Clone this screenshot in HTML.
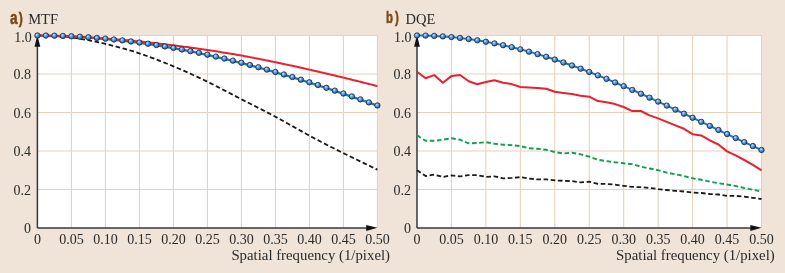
<!DOCTYPE html>
<html><head><meta charset="utf-8"><style>
html,body{margin:0;padding:0;background:#efe4d7;}
svg{display:block;}
.t{font-family:"Liberation Serif",serif;font-size:14px;fill:#2a2a2a;}
.ttl{font-family:"Liberation Serif",serif;font-size:14.5px;fill:#2a2a2a;}
.lab{font-family:"Liberation Sans",sans-serif;font-weight:bold;font-size:17px;fill:#7a4613;stroke:#7a4613;stroke-width:0.45px;}
.tt{font-family:"Liberation Serif",serif;font-size:14.8px;fill:#2a2a2a;}
</style></head><body>
<svg width="785" height="273" viewBox="0 0 785 273">
<defs><radialGradient id="ball" cx="0.38" cy="0.35" r="0.7">
<stop offset="0" stop-color="#d4e8fa"/><stop offset="0.35" stop-color="#6aa6e6"/><stop offset="0.8" stop-color="#2d6cc0"/><stop offset="1" stop-color="#1f4f96"/></radialGradient></defs>
<rect width="785" height="273" fill="#efe4d7"/>
<rect x="37.4" y="35.5" width="340.0" height="192.5" fill="#fff"/>
<path d="M71.40 35.5V228.0M105.40 35.5V228.0M139.40 35.5V228.0M173.40 35.5V228.0M207.40 35.5V228.0M241.40 35.5V228.0M275.40 35.5V228.0M309.40 35.5V228.0M343.40 35.5V228.0M377.40 35.5V228.0M37.4 189.50H377.4M37.4 151.00H377.4M37.4 112.50H377.4M37.4 74.00H377.4M37.4 35.50H377.4" stroke="#e6d2bc" stroke-width="1.1" fill="none"/>
<polyline points="37.40,35.50 39.10,35.50 40.80,35.52 42.50,35.54 44.20,35.57 45.90,35.62 47.60,35.67 49.30,35.73 51.00,35.80 52.70,35.88 54.40,35.98 56.10,36.08 57.80,36.19 59.50,36.32 61.20,36.46 62.90,36.60 64.60,36.76 66.30,36.94 68.00,37.12 69.70,37.31 71.40,37.52 73.10,37.74 74.80,37.97 76.50,38.22 78.20,38.47 79.90,38.74 81.60,39.02 83.30,39.30 85.00,39.60 86.70,39.91 88.40,40.23 90.10,40.56 91.80,40.89 93.50,41.24 95.20,41.59 96.90,41.95 98.60,42.32 100.30,42.70 102.00,43.08 103.70,43.48 105.40,43.87 107.10,44.28 108.80,44.69 110.50,45.11 112.20,45.53 113.90,45.96 115.60,46.40 117.30,46.85 119.00,47.30 120.70,47.76 122.40,48.23 124.10,48.71 125.80,49.20 127.50,49.69 129.20,50.20 130.90,50.71 132.60,51.23 134.30,51.76 136.00,52.30 137.70,52.84 139.40,53.40 141.10,53.97 142.80,54.55 144.50,55.13 146.20,55.73 147.90,56.33 149.60,56.95 151.30,57.57 153.00,58.20 154.70,58.84 156.40,59.48 158.10,60.13 159.80,60.79 161.50,61.46 163.20,62.13 164.90,62.81 166.60,63.50 168.30,64.19 170.00,64.89 171.70,65.59 173.40,66.30 175.10,67.01 176.80,67.73 178.50,68.46 180.20,69.19 181.90,69.92 183.60,70.66 185.30,71.41 187.00,72.16 188.70,72.92 190.40,73.68 192.10,74.45 193.80,75.23 195.50,76.02 197.20,76.81 198.90,77.60 200.60,78.41 202.30,79.22 204.00,80.04 205.70,80.87 207.40,81.70 209.10,82.54 210.80,83.39 212.50,84.24 214.20,85.11 215.90,85.97 217.60,86.84 219.30,87.72 221.00,88.60 222.70,89.48 224.40,90.36 226.10,91.25 227.80,92.14 229.50,93.03 231.20,93.91 232.90,94.80 234.60,95.69 236.30,96.58 238.00,97.46 239.70,98.34 241.40,99.22 243.10,100.09 244.80,100.96 246.50,101.83 248.20,102.70 249.90,103.56 251.60,104.43 253.30,105.29 255.00,106.15 256.70,107.02 258.40,107.88 260.10,108.75 261.80,109.62 263.50,110.49 265.20,111.37 266.90,112.25 268.60,113.13 270.30,114.03 272.00,114.92 273.70,115.82 275.40,116.74 277.10,117.65 278.80,118.58 280.50,119.51 282.20,120.44 283.90,121.38 285.60,122.33 287.30,123.28 289.00,124.23 290.70,125.18 292.40,126.14 294.10,127.09 295.80,128.05 297.50,129.00 299.20,129.95 300.90,130.90 302.60,131.85 304.30,132.80 306.00,133.74 307.70,134.67 309.40,135.60 311.10,136.52 312.80,137.44 314.50,138.35 316.20,139.26 317.90,140.16 319.60,141.05 321.30,141.94 323.00,142.82 324.70,143.70 326.40,144.58 328.10,145.45 329.80,146.31 331.50,147.18 333.20,148.04 334.90,148.89 336.60,149.74 338.30,150.59 340.00,151.44 341.70,152.28 343.40,153.12 345.10,153.95 346.80,154.79 348.50,155.62 350.20,156.46 351.90,157.28 353.60,158.11 355.30,158.94 357.00,159.77 358.70,160.59 360.40,161.42 362.10,162.24 363.80,163.07 365.50,163.89 367.20,164.71 368.90,165.54 370.60,166.36 372.30,167.19 374.00,168.02 375.70,168.84 377.40,169.67" fill="none" stroke="#1a1a1a" stroke-width="1.8" stroke-dasharray="4.6 2.6"/>
<polyline points="37.40,36.10 45.90,36.15 54.40,36.30 62.90,36.54 71.40,36.89 79.90,37.33 88.40,37.88 96.90,38.52 105.40,39.25 113.90,40.08 122.40,41.01 130.90,42.03 139.40,43.15 147.90,44.35 156.40,45.65 164.90,47.04 173.40,48.52 181.90,50.08 190.40,51.73 198.90,53.47 207.40,55.29 215.90,57.19 224.40,59.17 232.90,61.23 241.40,63.36 249.90,65.57 258.40,67.85 266.90,70.19 275.40,72.61 283.90,75.09 292.40,77.64 300.90,80.25 309.40,82.91 317.90,85.63 326.40,88.41 334.90,91.23 343.40,94.11 351.90,97.03 360.40,100.00 368.90,103.01 377.40,106.05" fill="none" stroke="#1aa060" stroke-width="1.8"/>
<polyline points="37.40,35.50 45.90,35.55 54.40,35.70 62.90,35.94 71.40,36.29 79.90,36.73 88.40,37.28 96.90,37.92 105.40,38.65 113.90,39.48 122.40,40.41 130.90,41.43 139.40,42.55 147.90,43.75 156.40,45.05 164.90,46.44 173.40,47.92 181.90,49.48 190.40,51.13 198.90,52.87 207.40,54.69 215.90,56.59 224.40,58.57 232.90,60.63 241.40,62.76 249.90,64.97 258.40,67.25 266.90,69.59 275.40,72.01 283.90,74.49 292.40,77.04 300.90,79.65 309.40,82.31 317.90,85.03 326.40,87.81 334.90,90.63 343.40,93.51 351.90,96.43 360.40,99.40 368.90,102.41 377.40,105.45" fill="none" stroke="#1b77c4" stroke-width="1.8"/>
<polyline points="37.40,35.50 39.10,35.52 40.80,35.55 42.50,35.57 44.20,35.60 45.90,35.64 47.60,35.67 49.30,35.71 51.00,35.75 52.70,35.80 54.40,35.85 56.10,35.90 57.80,35.95 59.50,36.00 61.20,36.06 62.90,36.12 64.60,36.19 66.30,36.26 68.00,36.32 69.70,36.40 71.40,36.47 73.10,36.55 74.80,36.63 76.50,36.71 78.20,36.80 79.90,36.88 81.60,36.97 83.30,37.07 85.00,37.16 86.70,37.26 88.40,37.36 90.10,37.46 91.80,37.57 93.50,37.68 95.20,37.79 96.90,37.90 98.60,38.02 100.30,38.13 102.00,38.25 103.70,38.38 105.40,38.50 107.10,38.63 108.80,38.76 110.50,38.89 112.20,39.02 113.90,39.16 115.60,39.30 117.30,39.44 119.00,39.58 120.70,39.73 122.40,39.88 124.10,40.03 125.80,40.18 127.50,40.34 129.20,40.49 130.90,40.65 132.60,40.81 134.30,40.98 136.00,41.14 137.70,41.31 139.40,41.48 141.10,41.65 142.80,41.83 144.50,42.01 146.20,42.19 147.90,42.37 149.60,42.55 151.30,42.73 153.00,42.92 154.70,43.11 156.40,43.30 158.10,43.50 159.80,43.69 161.50,43.89 163.20,44.09 164.90,44.29 166.60,44.50 168.30,44.70 170.00,44.91 171.70,45.12 173.40,45.34 175.10,45.55 176.80,45.77 178.50,45.99 180.20,46.21 181.90,46.43 183.60,46.65 185.30,46.88 187.00,47.11 188.70,47.34 190.40,47.57 192.10,47.81 193.80,48.05 195.50,48.29 197.20,48.53 198.90,48.77 200.60,49.02 202.30,49.26 204.00,49.51 205.70,49.76 207.40,50.02 209.10,50.27 210.80,50.53 212.50,50.79 214.20,51.05 215.90,51.32 217.60,51.58 219.30,51.85 221.00,52.12 222.70,52.39 224.40,52.67 226.10,52.94 227.80,53.22 229.50,53.50 231.20,53.78 232.90,54.07 234.60,54.35 236.30,54.64 238.00,54.93 239.70,55.22 241.40,55.52 243.10,55.83 244.80,56.15 246.50,56.47 248.20,56.80 249.90,57.12 251.60,57.45 253.30,57.78 255.00,58.11 256.70,58.44 258.40,58.77 260.10,59.11 261.80,59.45 263.50,59.79 265.20,60.13 266.90,60.48 268.60,60.82 270.30,61.17 272.00,61.52 273.70,61.87 275.40,62.22 277.10,62.58 278.80,62.93 280.50,63.29 282.20,63.65 283.90,64.01 285.60,64.38 287.30,64.74 289.00,65.11 290.70,65.48 292.40,65.85 294.10,66.22 295.80,66.59 297.50,66.97 299.20,67.34 300.90,67.72 302.60,68.10 304.30,68.48 306.00,68.87 307.70,69.25 309.40,69.64 311.10,70.02 312.80,70.41 314.50,70.80 316.20,71.19 317.90,71.59 319.60,71.98 321.30,72.38 323.00,72.77 324.70,73.17 326.40,73.57 328.10,73.97 329.80,74.37 331.50,74.78 333.20,75.18 334.90,75.59 336.60,76.00 338.30,76.40 340.00,76.81 341.70,77.23 343.40,77.64 345.10,78.05 346.80,78.47 348.50,78.88 350.20,79.30 351.90,79.72 353.60,80.13 355.30,80.55 357.00,80.98 358.70,81.40 360.40,81.82 362.10,82.24 363.80,82.67 365.50,83.10 367.20,83.52 368.90,83.95 370.60,84.38 372.30,84.81 374.00,85.24 375.70,85.67 377.40,86.10" fill="none" stroke="#e7212d" stroke-width="2"/>
<path d="M37.4 228.0H368.4M37.4 228.0V44.5" stroke="#383838" stroke-width="1.5" fill="none"/>
<path d="M377.4 227.8 L366.2 224.9 L366.2 230.9Z" fill="#111"/>
<path d="M37.4 35.0 L34.5 46.7 L40.3 46.7Z" fill="#111"/>
<circle cx="37.40" cy="35.50" r="2.7" fill="url(#ball)" stroke="#1c2a3c" stroke-width="0.8"/>
<circle cx="45.90" cy="35.55" r="2.7" fill="url(#ball)" stroke="#1c2a3c" stroke-width="0.8"/>
<circle cx="54.40" cy="35.70" r="2.7" fill="url(#ball)" stroke="#1c2a3c" stroke-width="0.8"/>
<circle cx="62.90" cy="35.94" r="2.7" fill="url(#ball)" stroke="#1c2a3c" stroke-width="0.8"/>
<circle cx="71.40" cy="36.29" r="2.7" fill="url(#ball)" stroke="#1c2a3c" stroke-width="0.8"/>
<circle cx="79.90" cy="36.73" r="2.7" fill="url(#ball)" stroke="#1c2a3c" stroke-width="0.8"/>
<circle cx="88.40" cy="37.28" r="2.7" fill="url(#ball)" stroke="#1c2a3c" stroke-width="0.8"/>
<circle cx="96.90" cy="37.92" r="2.7" fill="url(#ball)" stroke="#1c2a3c" stroke-width="0.8"/>
<circle cx="105.40" cy="38.65" r="2.7" fill="url(#ball)" stroke="#1c2a3c" stroke-width="0.8"/>
<circle cx="113.90" cy="39.48" r="2.7" fill="url(#ball)" stroke="#1c2a3c" stroke-width="0.8"/>
<circle cx="122.40" cy="40.41" r="2.7" fill="url(#ball)" stroke="#1c2a3c" stroke-width="0.8"/>
<circle cx="130.90" cy="41.43" r="2.7" fill="url(#ball)" stroke="#1c2a3c" stroke-width="0.8"/>
<circle cx="139.40" cy="42.55" r="2.7" fill="url(#ball)" stroke="#1c2a3c" stroke-width="0.8"/>
<circle cx="147.90" cy="43.75" r="2.7" fill="url(#ball)" stroke="#1c2a3c" stroke-width="0.8"/>
<circle cx="156.40" cy="45.05" r="2.7" fill="url(#ball)" stroke="#1c2a3c" stroke-width="0.8"/>
<circle cx="164.90" cy="46.44" r="2.7" fill="url(#ball)" stroke="#1c2a3c" stroke-width="0.8"/>
<circle cx="173.40" cy="47.92" r="2.7" fill="url(#ball)" stroke="#1c2a3c" stroke-width="0.8"/>
<circle cx="181.90" cy="49.48" r="2.7" fill="url(#ball)" stroke="#1c2a3c" stroke-width="0.8"/>
<circle cx="190.40" cy="51.13" r="2.7" fill="url(#ball)" stroke="#1c2a3c" stroke-width="0.8"/>
<circle cx="198.90" cy="52.87" r="2.7" fill="url(#ball)" stroke="#1c2a3c" stroke-width="0.8"/>
<circle cx="207.40" cy="54.69" r="2.7" fill="url(#ball)" stroke="#1c2a3c" stroke-width="0.8"/>
<circle cx="215.90" cy="56.59" r="2.7" fill="url(#ball)" stroke="#1c2a3c" stroke-width="0.8"/>
<circle cx="224.40" cy="58.57" r="2.7" fill="url(#ball)" stroke="#1c2a3c" stroke-width="0.8"/>
<circle cx="232.90" cy="60.63" r="2.7" fill="url(#ball)" stroke="#1c2a3c" stroke-width="0.8"/>
<circle cx="241.40" cy="62.76" r="2.7" fill="url(#ball)" stroke="#1c2a3c" stroke-width="0.8"/>
<circle cx="249.90" cy="64.97" r="2.7" fill="url(#ball)" stroke="#1c2a3c" stroke-width="0.8"/>
<circle cx="258.40" cy="67.25" r="2.7" fill="url(#ball)" stroke="#1c2a3c" stroke-width="0.8"/>
<circle cx="266.90" cy="69.59" r="2.7" fill="url(#ball)" stroke="#1c2a3c" stroke-width="0.8"/>
<circle cx="275.40" cy="72.01" r="2.7" fill="url(#ball)" stroke="#1c2a3c" stroke-width="0.8"/>
<circle cx="283.90" cy="74.49" r="2.7" fill="url(#ball)" stroke="#1c2a3c" stroke-width="0.8"/>
<circle cx="292.40" cy="77.04" r="2.7" fill="url(#ball)" stroke="#1c2a3c" stroke-width="0.8"/>
<circle cx="300.90" cy="79.65" r="2.7" fill="url(#ball)" stroke="#1c2a3c" stroke-width="0.8"/>
<circle cx="309.40" cy="82.31" r="2.7" fill="url(#ball)" stroke="#1c2a3c" stroke-width="0.8"/>
<circle cx="317.90" cy="85.03" r="2.7" fill="url(#ball)" stroke="#1c2a3c" stroke-width="0.8"/>
<circle cx="326.40" cy="87.81" r="2.7" fill="url(#ball)" stroke="#1c2a3c" stroke-width="0.8"/>
<circle cx="334.90" cy="90.63" r="2.7" fill="url(#ball)" stroke="#1c2a3c" stroke-width="0.8"/>
<circle cx="343.40" cy="93.51" r="2.7" fill="url(#ball)" stroke="#1c2a3c" stroke-width="0.8"/>
<circle cx="351.90" cy="96.43" r="2.7" fill="url(#ball)" stroke="#1c2a3c" stroke-width="0.8"/>
<circle cx="360.40" cy="99.40" r="2.7" fill="url(#ball)" stroke="#1c2a3c" stroke-width="0.8"/>
<circle cx="368.90" cy="102.41" r="2.7" fill="url(#ball)" stroke="#1c2a3c" stroke-width="0.8"/>
<circle cx="377.40" cy="105.45" r="2.7" fill="url(#ball)" stroke="#1c2a3c" stroke-width="0.8"/>
<text x="31.00" y="232.50" text-anchor="end" class="t">0</text>
<text x="31.10" y="194.90" text-anchor="end" class="t">0.2</text>
<text x="31.10" y="156.40" text-anchor="end" class="t">0.4</text>
<text x="31.10" y="117.90" text-anchor="end" class="t">0.6</text>
<text x="31.10" y="79.40" text-anchor="end" class="t">0.8</text>
<text x="31.70" y="41.60" text-anchor="end" class="t">1.0</text>
<text x="37.40" y="243.60" text-anchor="middle" class="t">0</text>
<text x="71.40" y="243.60" text-anchor="middle" class="t">0.05</text>
<text x="105.40" y="243.60" text-anchor="middle" class="t">0.10</text>
<text x="139.40" y="243.60" text-anchor="middle" class="t">0.15</text>
<text x="173.40" y="243.60" text-anchor="middle" class="t">0.20</text>
<text x="207.40" y="243.60" text-anchor="middle" class="t">0.25</text>
<text x="241.40" y="243.60" text-anchor="middle" class="t">0.30</text>
<text x="275.40" y="243.60" text-anchor="middle" class="t">0.35</text>
<text x="309.40" y="243.60" text-anchor="middle" class="t">0.40</text>
<text x="343.40" y="243.60" text-anchor="middle" class="t">0.45</text>
<text x="377.40" y="243.60" text-anchor="middle" class="t">0.50</text>
<text x="390.00" y="259.6" text-anchor="end" class="tt">Spatial frequency (1/pixel)</text>
<text transform="translate(10,24.1) scale(0.74,1)" class="lab"><tspan font-size="18.5">a</tspan><tspan font-size="16.5" dx="1.6" dy="-0.4">)</tspan></text>
<text x="28.2" y="24" class="ttl">MTF</text>
<rect x="417.0" y="35.5" width="344.5" height="192.5" fill="#fff"/>
<path d="M451.45 35.5V228.0M485.90 35.5V228.0M520.35 35.5V228.0M554.80 35.5V228.0M589.25 35.5V228.0M623.70 35.5V228.0M658.15 35.5V228.0M692.60 35.5V228.0M727.05 35.5V228.0M761.50 35.5V228.0M417.0 189.50H761.5M417.0 151.00H761.5M417.0 112.50H761.5M417.0 74.00H761.5M417.0 35.50H761.5" stroke="#e6d2bc" stroke-width="1.1" fill="none"/>
<path d="M417.0 228.0H752.5M417.0 228.0V44.5" stroke="#383838" stroke-width="1.5" fill="none"/>
<path d="M761.5 227.8 L750.3 224.9 L750.3 230.9Z" fill="#111"/>
<path d="M417.0 35.0 L414.1 46.7 L419.9 46.7Z" fill="#111"/>
<polyline points="417.00,170.30 425.61,176.10 434.23,174.70 442.84,176.90 451.45,175.40 460.06,176.40 468.68,175.10 477.29,175.20 485.90,176.90 494.51,176.40 503.12,178.40 511.74,177.90 520.35,177.20 528.96,178.50 537.58,179.40 546.19,179.40 554.80,180.40 563.41,180.80 572.02,181.10 580.64,182.30 589.25,181.70 597.86,183.90 606.48,183.90 615.09,184.70 623.70,185.80 632.31,186.90 640.92,187.20 649.54,187.90 658.15,189.10 666.76,190.00 675.38,190.90 683.99,191.50 692.60,192.60 701.21,193.00 709.83,194.00 718.44,194.50 727.05,195.90 735.66,195.90 744.28,196.70 752.89,197.80 761.50,199.00" fill="none" stroke="#1a1a1a" stroke-width="1.8" stroke-dasharray="4.6 2.6" stroke-linejoin="round"/>
<polyline points="417.00,135.30 425.61,140.80 434.23,140.80 442.84,139.70 451.45,138.20 460.06,139.70 468.68,143.30 477.29,143.00 485.90,142.20 494.51,143.70 503.12,144.70 511.74,145.10 520.35,146.10 528.96,148.30 537.58,148.80 546.19,149.80 554.80,152.00 563.41,153.50 572.02,152.70 580.64,154.30 589.25,156.70 597.86,159.70 606.48,161.10 615.09,162.30 623.70,163.30 632.31,164.10 640.92,166.70 649.54,168.50 658.15,170.20 666.76,172.60 675.38,174.30 683.99,176.00 692.60,178.30 701.21,179.80 709.83,181.70 718.44,183.20 727.05,184.50 735.66,186.00 744.28,188.00 752.89,189.70 761.50,191.70" fill="none" stroke="#0fa050" stroke-width="1.9" stroke-dasharray="4.6 2.6" stroke-linejoin="round"/>
<polyline points="417.00,71.70 425.61,78.30 434.23,75.10 442.84,82.70 451.45,76.10 460.06,75.00 468.68,81.30 477.29,84.20 485.90,82.00 494.51,80.20 503.12,82.80 511.74,84.10 520.35,87.00 528.96,87.40 537.58,88.00 546.19,88.80 554.80,91.80 563.41,92.90 572.02,94.00 580.64,95.80 589.25,96.70 597.86,101.10 606.48,102.20 615.09,104.10 623.70,107.00 632.31,111.10 640.92,111.00 649.54,115.40 658.15,118.40 666.76,121.90 675.38,125.40 683.99,128.80 692.60,134.20 701.21,135.40 709.83,140.30 718.44,144.50 727.05,151.40 735.66,155.40 744.28,160.00 752.89,164.80 761.50,170.30" fill="none" stroke="#e7212d" stroke-width="2" stroke-linejoin="round"/>
<polyline points="417.00,35.50 425.61,35.60 434.23,35.90 442.84,36.39 451.45,37.08 460.06,37.96 468.68,39.04 477.29,40.30 485.90,41.75 494.51,43.38 503.12,45.19 511.74,47.18 520.35,49.33 528.96,51.65 537.58,54.13 546.19,56.76 554.80,59.54 563.41,62.45 572.02,65.50 580.64,68.67 589.25,71.97 597.86,75.37 606.48,78.87 615.09,82.47 623.70,86.16 632.31,89.92 640.92,93.76 649.54,97.65 658.15,101.60 666.76,105.59 675.38,109.61 683.99,113.67 692.60,117.74 701.21,121.82 709.83,125.90 718.44,129.98 727.05,134.04 735.66,138.08 744.28,142.09 752.89,146.06 761.50,149.98" fill="none" stroke="#1b77c4" stroke-width="2"/>
<circle cx="417.00" cy="35.50" r="2.7" fill="url(#ball)" stroke="#1c2a3c" stroke-width="0.8"/>
<circle cx="425.61" cy="35.60" r="2.7" fill="url(#ball)" stroke="#1c2a3c" stroke-width="0.8"/>
<circle cx="434.23" cy="35.90" r="2.7" fill="url(#ball)" stroke="#1c2a3c" stroke-width="0.8"/>
<circle cx="442.84" cy="36.39" r="2.7" fill="url(#ball)" stroke="#1c2a3c" stroke-width="0.8"/>
<circle cx="451.45" cy="37.08" r="2.7" fill="url(#ball)" stroke="#1c2a3c" stroke-width="0.8"/>
<circle cx="460.06" cy="37.96" r="2.7" fill="url(#ball)" stroke="#1c2a3c" stroke-width="0.8"/>
<circle cx="468.68" cy="39.04" r="2.7" fill="url(#ball)" stroke="#1c2a3c" stroke-width="0.8"/>
<circle cx="477.29" cy="40.30" r="2.7" fill="url(#ball)" stroke="#1c2a3c" stroke-width="0.8"/>
<circle cx="485.90" cy="41.75" r="2.7" fill="url(#ball)" stroke="#1c2a3c" stroke-width="0.8"/>
<circle cx="494.51" cy="43.38" r="2.7" fill="url(#ball)" stroke="#1c2a3c" stroke-width="0.8"/>
<circle cx="503.12" cy="45.19" r="2.7" fill="url(#ball)" stroke="#1c2a3c" stroke-width="0.8"/>
<circle cx="511.74" cy="47.18" r="2.7" fill="url(#ball)" stroke="#1c2a3c" stroke-width="0.8"/>
<circle cx="520.35" cy="49.33" r="2.7" fill="url(#ball)" stroke="#1c2a3c" stroke-width="0.8"/>
<circle cx="528.96" cy="51.65" r="2.7" fill="url(#ball)" stroke="#1c2a3c" stroke-width="0.8"/>
<circle cx="537.58" cy="54.13" r="2.7" fill="url(#ball)" stroke="#1c2a3c" stroke-width="0.8"/>
<circle cx="546.19" cy="56.76" r="2.7" fill="url(#ball)" stroke="#1c2a3c" stroke-width="0.8"/>
<circle cx="554.80" cy="59.54" r="2.7" fill="url(#ball)" stroke="#1c2a3c" stroke-width="0.8"/>
<circle cx="563.41" cy="62.45" r="2.7" fill="url(#ball)" stroke="#1c2a3c" stroke-width="0.8"/>
<circle cx="572.02" cy="65.50" r="2.7" fill="url(#ball)" stroke="#1c2a3c" stroke-width="0.8"/>
<circle cx="580.64" cy="68.67" r="2.7" fill="url(#ball)" stroke="#1c2a3c" stroke-width="0.8"/>
<circle cx="589.25" cy="71.97" r="2.7" fill="url(#ball)" stroke="#1c2a3c" stroke-width="0.8"/>
<circle cx="597.86" cy="75.37" r="2.7" fill="url(#ball)" stroke="#1c2a3c" stroke-width="0.8"/>
<circle cx="606.48" cy="78.87" r="2.7" fill="url(#ball)" stroke="#1c2a3c" stroke-width="0.8"/>
<circle cx="615.09" cy="82.47" r="2.7" fill="url(#ball)" stroke="#1c2a3c" stroke-width="0.8"/>
<circle cx="623.70" cy="86.16" r="2.7" fill="url(#ball)" stroke="#1c2a3c" stroke-width="0.8"/>
<circle cx="632.31" cy="89.92" r="2.7" fill="url(#ball)" stroke="#1c2a3c" stroke-width="0.8"/>
<circle cx="640.92" cy="93.76" r="2.7" fill="url(#ball)" stroke="#1c2a3c" stroke-width="0.8"/>
<circle cx="649.54" cy="97.65" r="2.7" fill="url(#ball)" stroke="#1c2a3c" stroke-width="0.8"/>
<circle cx="658.15" cy="101.60" r="2.7" fill="url(#ball)" stroke="#1c2a3c" stroke-width="0.8"/>
<circle cx="666.76" cy="105.59" r="2.7" fill="url(#ball)" stroke="#1c2a3c" stroke-width="0.8"/>
<circle cx="675.38" cy="109.61" r="2.7" fill="url(#ball)" stroke="#1c2a3c" stroke-width="0.8"/>
<circle cx="683.99" cy="113.67" r="2.7" fill="url(#ball)" stroke="#1c2a3c" stroke-width="0.8"/>
<circle cx="692.60" cy="117.74" r="2.7" fill="url(#ball)" stroke="#1c2a3c" stroke-width="0.8"/>
<circle cx="701.21" cy="121.82" r="2.7" fill="url(#ball)" stroke="#1c2a3c" stroke-width="0.8"/>
<circle cx="709.83" cy="125.90" r="2.7" fill="url(#ball)" stroke="#1c2a3c" stroke-width="0.8"/>
<circle cx="718.44" cy="129.98" r="2.7" fill="url(#ball)" stroke="#1c2a3c" stroke-width="0.8"/>
<circle cx="727.05" cy="134.04" r="2.7" fill="url(#ball)" stroke="#1c2a3c" stroke-width="0.8"/>
<circle cx="735.66" cy="138.08" r="2.7" fill="url(#ball)" stroke="#1c2a3c" stroke-width="0.8"/>
<circle cx="744.28" cy="142.09" r="2.7" fill="url(#ball)" stroke="#1c2a3c" stroke-width="0.8"/>
<circle cx="752.89" cy="146.06" r="2.7" fill="url(#ball)" stroke="#1c2a3c" stroke-width="0.8"/>
<circle cx="761.50" cy="149.98" r="2.7" fill="url(#ball)" stroke="#1c2a3c" stroke-width="0.8"/>
<text x="411.00" y="232.50" text-anchor="end" class="t">0</text>
<text x="411.00" y="194.90" text-anchor="end" class="t">0.2</text>
<text x="411.00" y="156.40" text-anchor="end" class="t">0.4</text>
<text x="411.00" y="117.90" text-anchor="end" class="t">0.6</text>
<text x="411.00" y="79.40" text-anchor="end" class="t">0.8</text>
<text x="411.60" y="41.60" text-anchor="end" class="t">1.0</text>
<text x="417.00" y="243.60" text-anchor="middle" class="t">0</text>
<text x="451.45" y="243.60" text-anchor="middle" class="t">0.05</text>
<text x="485.90" y="243.60" text-anchor="middle" class="t">0.10</text>
<text x="520.35" y="243.60" text-anchor="middle" class="t">0.15</text>
<text x="554.80" y="243.60" text-anchor="middle" class="t">0.20</text>
<text x="589.25" y="243.60" text-anchor="middle" class="t">0.25</text>
<text x="623.70" y="243.60" text-anchor="middle" class="t">0.30</text>
<text x="658.15" y="243.60" text-anchor="middle" class="t">0.35</text>
<text x="692.60" y="243.60" text-anchor="middle" class="t">0.40</text>
<text x="727.05" y="243.60" text-anchor="middle" class="t">0.45</text>
<text x="761.50" y="243.60" text-anchor="middle" class="t">0.50</text>
<text x="774.70" y="259.6" text-anchor="end" class="tt">Spatial frequency (1/pixel)</text>
<text transform="translate(386,23.3) scale(0.7,1)" class="lab"><tspan font-size="16.3">b</tspan><tspan font-size="16.5" dx="2.8" dy="-0.6">)</tspan></text>
<text x="405.6" y="24" class="ttl">DQE</text>
</svg>
</body></html>
